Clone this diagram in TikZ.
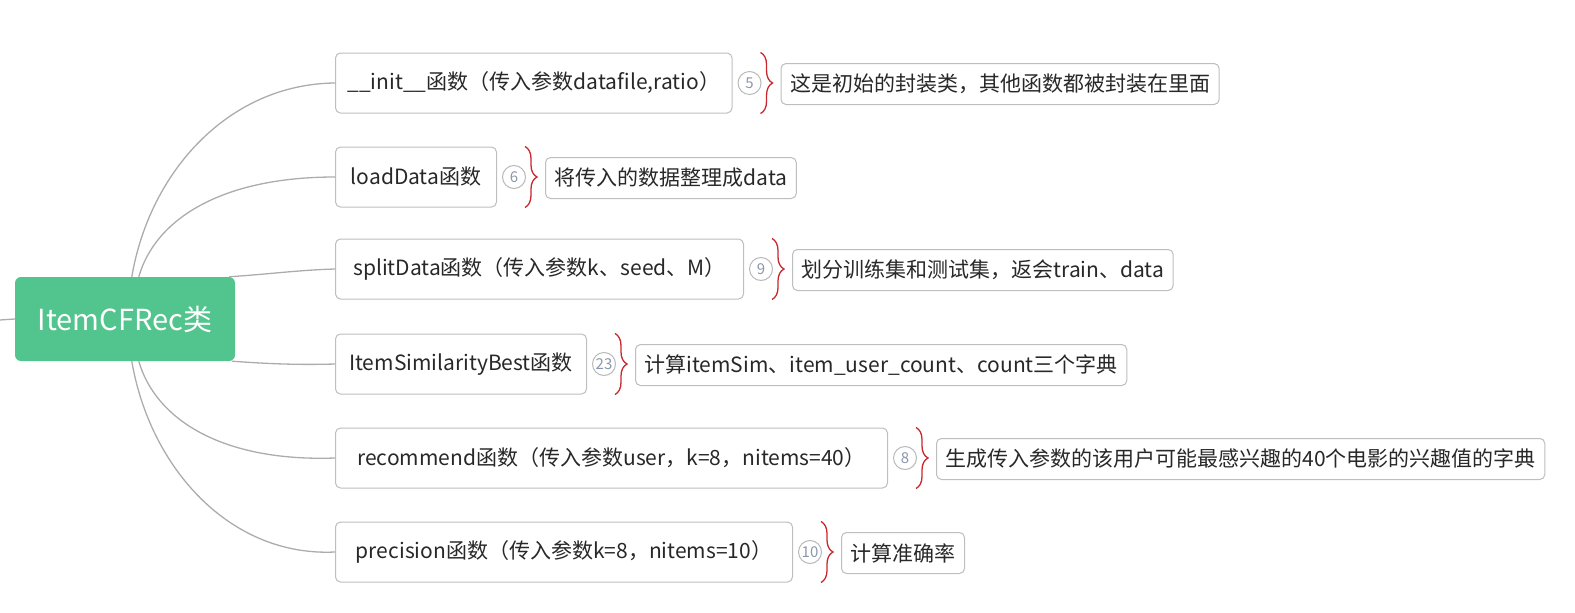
\documentclass[tikz,border=0pt]{standalone}
\usepackage{fontspec}
\setmainfont{Noto Sans CJK SC}
\usetikzlibrary{decorations.pathreplacing,calc}
\definecolor{rootgreen}{RGB}{82,196,141}
\definecolor{boxgray}{RGB}{190,190,190}
\definecolor{linegray}{RGB}{172,172,172}
\definecolor{textgray}{RGB}{40,40,40}
\definecolor{circgray}{RGB}{185,185,185}
\definecolor{numgray}{RGB}{140,150,170}
\definecolor{bracered}{RGB}{200,40,45}
\begin{document}
\begin{tikzpicture}[x=1pt,y=-1pt,
  rootbox/.style={fill=rootgreen, rounded corners=6pt, text=white, minimum width=220pt, minimum height=84pt, inner sep=0pt, font=\fontsize{29}{33}\selectfont},
  topic/.style={draw=boxgray, line width=1pt, rounded corners=5pt, fill=white, minimum height=60pt, anchor=west, inner xsep=12pt, inner ysep=0pt, text=textgray, font=\fontsize{21}{25}\selectfont},
  note/.style={draw=boxgray, line width=1pt, rounded corners=5pt, fill=white, minimum height=41pt, anchor=west, inner xsep=9pt, inner ysep=0pt, text=textgray, font=\fontsize{21}{25}\selectfont},
  num/.style={circle, draw=circgray, line width=1pt, minimum size=23pt, inner sep=0pt, text=numgray, font=\fontsize{15}{15}\selectfont},
  link/.style={draw=linegray, line width=1.3pt},
  brc/.style={draw=bracered, line width=1.3pt, decorate, decoration={brace, amplitude=12pt}}]
\useasboundingbox (0,0) rectangle (1575,613);

\node[rootbox] (root) at (125,319) {ItemCFRec类};
\coordinate (lft) at (0,320);
\draw[link] (lft) -- (root.west);

\node[topic, minimum width=395pt] (t1) at (335,83) {\_\_init\_\_函数（传入参数datafile,ratio）};
\node[topic, minimum width=161pt] (t2) at (335,177) {loadData函数};
\node[topic, minimum width=408pt] (t3) at (335,269) {splitData函数（传入参数k、seed、M）};
\node[topic, minimum width=251pt] (t4) at (335,364) {ItemSimilarityBest函数};
\node[topic, minimum width=552pt] (t5) at (335,458) {recommend函数（传入参数user，k=8，nitems=40）};
\node[topic, minimum width=457pt] (t6) at (335,552) {precision函数（传入参数k=8，nitems=10）};

\foreach \t/\n/\d in {t1/5/这是初始的封装类，其他函数都被封装在里面,
                      t2/6/将传入的数据整理成data,
                      t3/9/划分训练集和测试集，返会train、data,
                      t4/23/计算itemSim、item\_user\_count、count三个字典,
                      t5/8/生成传入参数的该用户可能最感兴趣的40个电影的兴趣值的字典,
                      t6/10/计算准确率}{
  \node[num] (c\t) at ($(\t.east)+(17,0)$) {\n};
  \draw[brc] ($(\t.north east)+(28,0)$) -- ($(\t.south east)+(28,0)$);
  \node[note] (d\t) at ($(\t.east)+(48,1)$) {\d};
}

\draw[link] ([xshift=117pt]root.north west) .. controls (150,170) and (230,84) .. (t1.west);
\draw[link] ([xshift=124pt]root.north west) .. controls (155,220) and (220,177) .. (t2.west);
\draw[link] ([xshift=-6pt]root.north east) .. controls (270,274) and (300,270) .. (t3.west);
\draw[link] ([xshift=-3pt]root.south east) .. controls (270,364) and (300,365) .. (t4.west);
\draw[link] ([xshift=124pt]root.south west) .. controls (155,418) and (220,462) .. (t5.west);
\draw[link] ([xshift=117pt]root.south west) .. controls (150,468) and (230,557) .. (t6.west);
\end{tikzpicture}
\end{document}
